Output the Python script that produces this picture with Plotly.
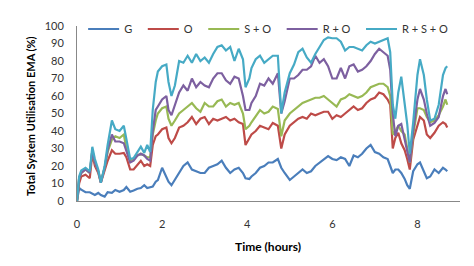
import plotly.graph_objects as go

time_h = [0, 0.05, 0.1, 0.2, 0.3, 0.36, 0.42, 0.5, 0.56, 0.65,
          0.72, 0.82, 0.9, 1.0, 1.1, 1.16, 1.25, 1.33, 1.42, 1.5,
          1.58, 1.65, 1.72, 1.78, 1.85, 1.9, 2.0, 2.1, 2.15, 2.22,
          2.3, 2.4, 2.5, 2.6, 2.7, 2.8, 2.9, 3.0, 3.1, 3.2,
          3.3, 3.4, 3.5, 3.6, 3.7, 3.8, 3.9, 3.96, 4.05, 4.1,
          4.2, 4.3, 4.4, 4.5, 4.6, 4.72, 4.8, 4.88, 5.0, 5.1,
          5.2, 5.3, 5.4, 5.5, 5.6, 5.7, 5.8, 5.9, 6.0, 6.1,
          6.2, 6.3, 6.4, 6.5, 6.6, 6.7, 6.8, 6.9, 7.0, 7.1,
          7.2, 7.3, 7.36, 7.42, 7.48, 7.55, 7.62, 7.7, 7.76, 7.82,
          7.9, 8.0, 8.06, 8.15, 8.22, 8.3, 8.4, 8.5, 8.6, 8.66, 8.7]

g = [0, 7.4, 6.5, 5, 5, 4, 3.4, 4.6, 3.4, 2.5,
     5, 4.6, 6.3, 5.3, 6.3, 8, 5.3, 6, 7, 7.4,
     9, 7.4, 8, 8.2, 11, 12, 19, 14, 11, 9,
     12, 16, 20, 22, 18, 17, 16, 16, 19, 20,
     21, 23, 19, 16, 18, 19, 16, 13, 12.6, 14,
     16, 19, 20, 22, 22, 24, 19, 16, 12, 14,
     16, 18, 16, 17, 20, 22, 24, 25.7, 24, 23.4,
     25, 24, 20, 26, 25, 27, 30, 32, 28, 27,
     25, 24, 20, 16, 18, 18, 16, 12.6, 9, 7,
     17, 21, 22, 17, 13, 14, 18, 16, 19, 18, 17]

o = [0, 10, 14, 15, 13, 27, 20, 16, 10.5, 18,
     23, 29, 27, 27, 27.5, 25, 18, 18, 21, 23,
     20, 21, 20, 32, 37, 38, 41, 42, 36, 33,
     36, 42, 43, 45, 48, 44, 47, 48, 44, 47,
     46, 47, 48, 46, 47, 45, 44, 32, 36, 38,
     40, 43, 42, 41, 44.6, 43, 30, 38, 43, 45,
     47, 48, 47, 50, 49, 50, 51, 51, 47, 49,
     48, 50, 52, 54, 52, 53, 56, 58, 59, 62,
     61, 58, 55, 30, 36, 39, 33, 29, 24, 18,
     35, 44, 48, 46, 38, 36, 39, 43, 45, 44, 42]

s_o = [0, 13, 16, 18, 16, 29, 22, 17, 11, 19,
       28, 35, 37, 36, 38, 30, 23, 24, 26, 27,
       26, 25, 25, 38, 46, 50, 53, 54, 47, 43,
       46, 50, 52, 54, 56, 53, 51, 56, 54, 54,
       57, 58, 54, 56, 55, 56, 50, 41, 43, 45,
       48.6, 52, 50, 51, 54, 52.6, 37, 46, 50, 52,
       54, 56, 57, 58, 59, 59, 60, 58, 56, 54,
       58, 59, 61, 60, 59, 60, 62, 65, 66, 67,
       67, 65, 60, 38, 40, 43, 40, 38, 30, 22,
       38, 53, 53, 52, 48, 45, 46, 49, 54, 58, 55]

r_o = [0, 13, 16, 18, 16, 29, 22, 17, 10.5, 19,
       29, 38, 34, 34, 33, 28, 22, 23, 26, 27,
       26, 24, 23, 40, 52, 54, 58, 60, 52, 49,
       55, 62, 66, 63, 70, 65, 68, 66, 65, 70,
       73, 73, 69, 67, 71, 70, 60, 52, 52, 56,
       60, 67, 66, 70, 67, 73, 50, 57, 70, 70,
       72, 75, 75, 77, 83, 79, 81, 77, 70, 70,
       76, 70, 77, 78, 74, 75, 77, 80, 84, 87,
       85, 83, 75, 50, 37, 43, 44, 35, 28, 22,
       40, 58, 64, 58, 50, 43, 44.6, 48, 60, 64, 61]

r_s_o = [0, 14, 17.5, 19, 17, 31, 24, 18, 10.5, 20,
         32, 46, 41, 40, 43, 35, 24, 24.5, 28, 31,
         27.5, 32, 28, 52, 68, 74, 77, 78, 68, 60,
         66, 80, 79, 83, 79, 84, 80, 82, 79, 84,
         88, 89, 86, 88, 80, 87, 81, 65, 70, 76,
         81, 83, 79, 81, 83, 83, 50, 62, 73, 78,
         85, 87, 82, 79, 84, 88, 92, 93.5, 93, 93,
         91, 86, 88, 88, 87, 86, 89, 91, 90, 91,
         92, 93, 85, 55, 47, 62, 71, 56, 44, 27,
         45, 72, 81, 72, 58, 46, 47, 55, 72, 76, 77]

series_names = ["G", "O", "S + O", "R + O", "R + S + O"]
series_values = [g, o, s_o, r_o, r_s_o]
series_colors = ["#4A7EBB", "#BE4B48", "#98B954", "#7D60A0", "#46AAC5"]

x_ticks = [0, 2, 4, 6, 8]
y_ticks = [0, 10, 20, 30, 40, 50, 60, 70, 80, 90, 100]

fig = go.Figure()
for name, vals, col in zip(series_names, series_values, series_colors):
    fig.add_trace(go.Scatter(x=time_h, y=vals, mode="lines",
                             name=name + "\u00a0\u00a0",
                             line=dict(color=col, width=2.2)))

axis_font = dict(family="Lato", size=11, color="#333333")
fig.update_layout(
    width=474, height=266,
    margin=dict(l=77, r=14, t=26, b=65),
    plot_bgcolor="white", paper_bgcolor="white",
    showlegend=True,
    legend=dict(orientation="h", x=0.016, xanchor="left", y=0.983, yanchor="middle",
                font=dict(family="Lato", size=11, color="#333333"),
                bgcolor="rgba(0,0,0,0)", itemwidth=31, tracegroupgap=0),
    xaxis=dict(range=[0, 9], tickvals=x_ticks, showgrid=False, zeroline=False,
               showline=True, linecolor="#888888", linewidth=1, ticks="",
               tickfont=axis_font, ticklabelstandoff=13),
    yaxis=dict(range=[0, 100], tickvals=y_ticks, showgrid=False, zeroline=False,
               showline=True, linecolor="#888888", linewidth=1, ticks="",
               tickfont=axis_font, ticklabelstandoff=10),
    annotations=[
        dict(text="<b>Time (hours)</b>", xref="paper", yref="paper",
             x=(268 - 77) / 383, y=-(246.5 - 201) / 175, showarrow=False,
             xanchor="center", yanchor="middle",
             font=dict(family="Lato", size=12, color="#000000")),
        dict(text="<b>Total System Utilisation EMA (%)</b>", xref="paper", yref="paper",
             x=-(77 - 31) / 383, y=(201 - 116) / 175, showarrow=False, textangle=-90,
             xanchor="center", yanchor="middle",
             font=dict(family="Lato", size=11, color="#000000")),
    ],
)

fig.write_html("out.html")
